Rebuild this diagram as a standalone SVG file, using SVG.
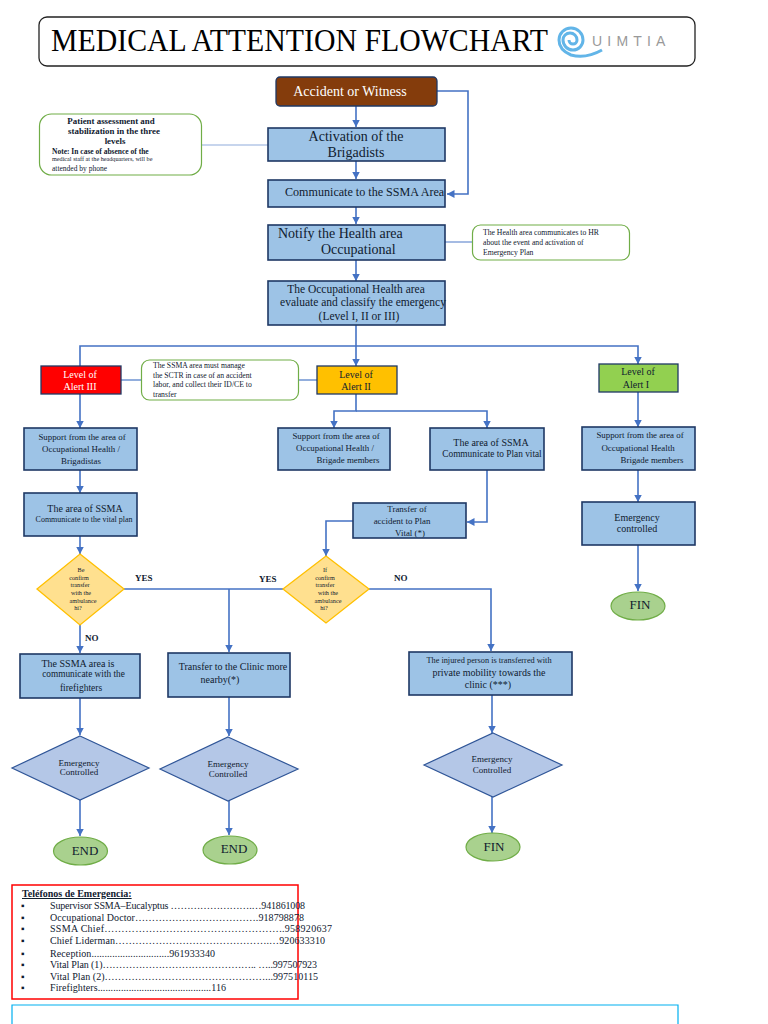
<svg xmlns="http://www.w3.org/2000/svg" width="768" height="1024" viewBox="0 0 768 1024">
<defs>
<marker id="a" markerUnits="userSpaceOnUse" markerWidth="9" markerHeight="9" refX="7.500" refY="4.500" orient="auto"><path d="M0 .5L7.500 4.500L0 8.500Z" fill="#4472c4"/></marker>
</defs>
<style>
text{font-family:"Liberation Serif","Times New Roman",serif;fill:#10202f}
.b{fill:#9dc3e6;stroke:#1f3864;stroke-width:1.6}
.n{fill:#fff;stroke:#70ad47;stroke-width:1.2}
.y{fill:#ffe08f;stroke:#ffc000;stroke-width:1.3}
.d{fill:#b4c7e7;stroke:#2f5597;stroke-width:1.2}
.g{fill:#a9d18e;stroke:#70ad47;stroke-width:1.2}
.c path{fill:none;stroke:#4472c4;stroke-width:1.6}
.m{text-anchor:middle}
.f{font-size:10px}
.s{font-size:8.900px}
.t{font-size:7.700px}
.q{font-size:6.200px}
.l{font-size:9px;font-weight:bold}
.h{font-weight:bold}
.e{font-size:13px}
</style>
<rect width="768" height="1024" fill="#fff"/>
<g id="title"><rect x="39" y="17" width="656" height="49" rx="8" fill="#fff" stroke="#222" stroke-width="1.3"/>
<text x="51" y="51" font-size="31" textLength="497" lengthAdjust="spacingAndGlyphs" style="fill:#000">MEDICAL ATTENTION FLOWCHART</text>
<path d="M602 50Q586 59 571 55Q559 50 559 40A12 12 0 0 1 583 40A10 10 0 0 1 563 40A7 7 0 0 1 577 40A4 4 0 0 1 569 40" fill="none" stroke="#62b5e8" stroke-width="3"/>
<text x="592" y="46" font-size="14" letter-spacing="5.200" style="font-family:'Liberation Sans',sans-serif;fill:#999">UIMTIA</text></g>
<g class="c" id="connectors">
<path d="M356 106V127" marker-end="url(#a)"/>
<path d="M356 161V179" marker-end="url(#a)"/>
<path d="M356 207V224" marker-end="url(#a)"/>
<path d="M356 260V281" marker-end="url(#a)"/>
<path d="M356 325V366" marker-end="url(#a)"/>
<path d="M80 366V346H638V364" marker-end="url(#a)"/>
<path d="M437 91H468V194H447" marker-end="url(#a)"/>
<path d="M202 145H268" style="stroke:#b4c7e7"/>
<path d="M445 242H472" style="stroke:#8faadc"/>
<path d="M121 380H141M299 380H317" style="stroke:#6f94d2"/>
<path d="M80 394V428" marker-end="url(#a)"/>
<path d="M80 470V493" marker-end="url(#a)"/>
<path d="M80 536V554" marker-end="url(#a)"/>
<path d="M80 625V653" marker-end="url(#a)"/>
<path d="M80 698V735" marker-end="url(#a)"/>
<path d="M80 800V836" marker-end="url(#a)"/>
<path d="M124 589H283"/>
<path d="M229 589V652" marker-end="url(#a)"/>
<path d="M229 697V736" marker-end="url(#a)"/>
<path d="M229 801V835" marker-end="url(#a)"/>
<path d="M356 394V411H334V428" marker-end="url(#a)"/>
<path d="M356 411H487V428" marker-end="url(#a)"/>
<path d="M487 470V522H467" marker-end="url(#a)"/>
<path d="M353 521H326V556" marker-end="url(#a)"/>
<path d="M369 589H491V651" marker-end="url(#a)"/>
<path d="M492 695V733" marker-end="url(#a)"/>
<path d="M492 797V833" marker-end="url(#a)"/>
<path d="M638 392V427" marker-end="url(#a)"/>
<path d="M638 470V502" marker-end="url(#a)"/>
<path d="M638 545V591" marker-end="url(#a)"/>
</g>
<g id="start"><rect x="276" y="77" width="161" height="29" rx="4" fill="#843c0c" stroke="#1f3864" stroke-width="1.3"/><text x="350" y="96" class="m" font-size="14" style="fill:#fff">Accident or Witness</text></g>
<g id="note1"><rect x="39.500" y="114" width="162" height="61" rx="12" class="n"/>
<text x="111" y="124" class="m s h">Patient assessment and</text><text x="114" y="134" class="m s h">stabilization in the three</text><text x="115" y="144" class="m s h">levels</text>
<text x="52" y="154" font-size="7.500" class="h">Note: In case of absence of the</text><text x="52" y="161" font-size="6.200">medical staff at the headquarters, will be</text><text x="52" y="171" font-size="7.500">attended by phone</text></g>
<g id="activation"><rect x="268" y="128" width="177" height="33" class="b"/><text x="356" y="141" class="m" font-size="14">Activation of the</text><text x="356" y="157" class="m" font-size="14">Brigadists</text></g>
<g id="communicate"><rect x="268" y="180" width="177" height="27" class="b"/><text x="285" y="196" font-size="12.100">Communicate to the SSMA Area</text></g>
<g id="notify"><rect x="268" y="225" width="177" height="35" class="b"/><text x="278" y="238" font-size="14">Notify the Health area</text><text x="321" y="254" font-size="14">Occupational</text></g>
<g id="note2"><rect x="472.500" y="225" width="157" height="35" rx="8" class="n"/><text x="483" y="235" class="t">The Health area communicates to HR</text><text x="483" y="245" class="t">about the event and activation of</text><text x="483" y="255" class="t">Emergency Plan</text></g>
<g id="evaluate"><rect x="268" y="281" width="177" height="44" class="b"/><text x="356" y="293" class="m" font-size="11.500">The Occupational Health area</text><text x="363" y="306" class="m" font-size="11.500">evaluate and classify the emergency</text><text x="359" y="320" class="m" font-size="11.500">(Level I, II or III)</text></g>
<g id="alert3"><rect x="41" y="366" width="80" height="28" fill="#f00" stroke="#1f3864" stroke-width="1.3"/><text x="80" y="378" class="m f" style="fill:#fff">Level of</text><text x="80" y="390" class="m f" style="fill:#fff">Alert III</text></g>
<g id="note3"><rect x="141.500" y="360" width="157" height="40" rx="8" class="n"/><text x="153" y="368" class="t">The SSMA area must manage</text><text x="153" y="378" class="t">the SCTR in case of an accident</text><text x="153" y="387" class="t">labor, and collect their ID/CE to</text><text x="153" y="397" class="t">transfer</text></g>
<g id="alert2"><rect x="317" y="366" width="80" height="28" fill="#ffc000" stroke="#1f3864" stroke-width="1.3"/><text x="356" y="378" class="m f">Level of</text><text x="356" y="390" class="m f">Alert II</text></g>
<g id="alert1"><rect x="599" y="364" width="79" height="28" fill="#92d050" stroke="#1f3864" stroke-width="1.3"/><text x="638" y="375" class="m f">Level of</text><text x="636" y="388" class="m f">Alert I</text></g>
<g id="support3"><rect x="24" y="428" width="113" height="42" class="b"/><text x="82" y="440" class="m s">Support from the area of</text><text x="81" y="452" class="m s">Occupational Health /</text><text x="81" y="464" class="m s">Brigadistas</text></g>
<g id="support2"><rect x="278" y="428" width="112" height="42" class="b"/><text x="336" y="439" class="m s">Support from the area of</text><text x="335" y="451" class="m s">Occupational Health /</text><text x="348" y="463" class="m s">Brigade members</text></g>
<g id="ssma2"><rect x="430" y="428" width="114" height="42" class="b"/><text x="491" y="446" class="m f">The area of SSMA</text><text x="492" y="457" class="m" font-size="9.300">Communicate to Plan vital</text></g>
<g id="support1"><rect x="582" y="427" width="113" height="43" class="b"/><text x="640" y="438" class="m s">Support from the area of</text><text x="638" y="451" class="m s">Occupational Health</text><text x="652" y="463" class="m s">Brigade members</text></g>
<g id="ssma3"><rect x="24" y="493" width="113" height="43" class="b"/><text x="85" y="512" class="m f">The area of SSMA</text><text x="84" y="522" class="m" font-size="8">Communicate to the vital plan</text></g>
<g id="transfer2"><rect x="353" y="503" width="113" height="35" class="b"/><text x="407" y="512" class="m s">Transfer of</text><text x="402" y="524" class="m s">accident to Plan</text><text x="410" y="536" class="m s">Vital (*)</text></g>
<g id="controlled1"><rect x="582" y="502" width="113" height="43" class="b"/><text x="637" y="521" class="m f">Emergency</text><text x="637" y="532" class="m f">controlled</text></g>
<g id="q3"><path d="M80 554L124 589L80 625L37 589Z" class="y"/><text x="81" y="572" class="m q">Be</text><text x="79" y="580" class="m q">confirm</text><text x="80" y="587" class="m q">transfer</text><text x="81" y="595" class="m q">with the</text><text x="83" y="603" class="m q">ambulance</text><text x="78" y="610" class="m q">hi?</text></g>
<g id="q2"><path d="M326 556L369 589L326 623L283 589Z" class="y"/><text x="325" y="572" class="m q">If</text><text x="325" y="580" class="m q">confirm</text><text x="325" y="587" class="m q">transfer</text><text x="328" y="595" class="m q">with the</text><text x="328" y="603" class="m q">ambulance</text><text x="324" y="610" class="m q">hi?</text></g>
<g id="labels"><text x="135" y="581" class="l">YES</text><text x="259" y="582" class="l">YES</text><text x="394" y="581" class="l">NO</text><text x="85" y="641" class="l">NO</text></g>
<g id="firefighters"><rect x="20" y="654" width="120" height="44" class="b"/><text x="78" y="667" class="m f">The SSMA area is</text><text x="83.500" y="677" class="m" font-size="9.300">communicate with the</text><text x="81" y="691" class="m" font-size="9.500">firefighters</text></g>
<g id="clinic"><rect x="168" y="653" width="122" height="44" class="b"/><text x="233" y="670" class="m f">Transfer to the Clinic more</text><text x="220" y="683" class="m f">nearby(*)</text></g>
<g id="private"><rect x="409" y="652" width="163" height="43" class="b"/><text x="489" y="663" class="m" font-size="8.300">The injured person is transferred with</text><text x="489" y="676" class="m f">private mobility towards the</text><text x="488" y="688" class="m f">clinic (***)</text></g>
<g id="d1"><path d="M80 736L149 768L80 800L12 768Z" class="d"/><text x="79" y="766" class="m" font-size="9">Emergency</text><text x="79" y="775" class="m" font-size="9">Controlled</text></g>
<g id="d2"><path d="M228 737L298 769L228 801L160 769Z" class="d"/><text x="228" y="767" class="m" font-size="9">Emergency</text><text x="228" y="777" class="m" font-size="9">Controlled</text></g>
<g id="d3"><path d="M493 733L562 765L493 797L424 765Z" class="d"/><text x="492" y="762" class="m" font-size="9">Emergency</text><text x="492" y="773" class="m" font-size="9">Controlled</text></g>
<g id="end1"><ellipse cx="80.500" cy="851" rx="27" ry="14" class="g"/><text x="85" y="855" class="m e">END</text></g>
<g id="end2"><ellipse cx="230" cy="850" rx="27" ry="14" class="g"/><text x="234" y="853" class="m e">END</text></g>
<g id="fin1"><ellipse cx="493" cy="847" rx="27" ry="14" class="g"/><text x="494" y="851" class="m e">FIN</text></g>
<g id="fin2"><ellipse cx="638" cy="606" rx="27" ry="14" class="g"/><text x="640" y="609" class="m e">FIN</text></g>
<g id="phones"><rect x="12" y="885" width="286" height="114" fill="none" stroke="#f00" stroke-width="1.500"/>
<text x="22" y="897" font-size="10" font-weight="bold" text-decoration="underline">Teléfonos de Emergencia:</text>
<g font-size="10">
<text x="21" y="909">▪</text><text x="50" y="909" textLength="255">Supervisor SSMA–Eucalyptus …………………….…941861008</text>
<text x="21" y="921">▪</text><text x="50" y="921" textLength="254">Occupational Doctor……………………………….918798878</text>
<text x="21" y="932">▪</text><text x="50" y="932" textLength="282">SSMA Chief……………………………………………..958920637</text>
<text x="21" y="944">▪</text><text x="50" y="944" textLength="275">Chief Liderman……………………………………….…920633310</text>
<text x="21" y="957">▪</text><text x="50" y="957" textLength="165">Reception..............................961933340</text>
<text x="21" y="968">▪</text><text x="50" y="968" textLength="267">Vital Plan (1)……………………………………….. …..997507923</text>
<text x="21" y="980">▪</text><text x="50" y="980" textLength="268">Vital Plan (2)…………………………………………...997510115</text>
<text x="21" y="991">▪</text><text x="50" y="991" textLength="176">Firefighters............................................116</text></g></g>
<g id="frame"><path d="M12 1024V1005H678V1024" fill="none" stroke="#00b0f0" stroke-width="1.200"/></g>
</svg>
